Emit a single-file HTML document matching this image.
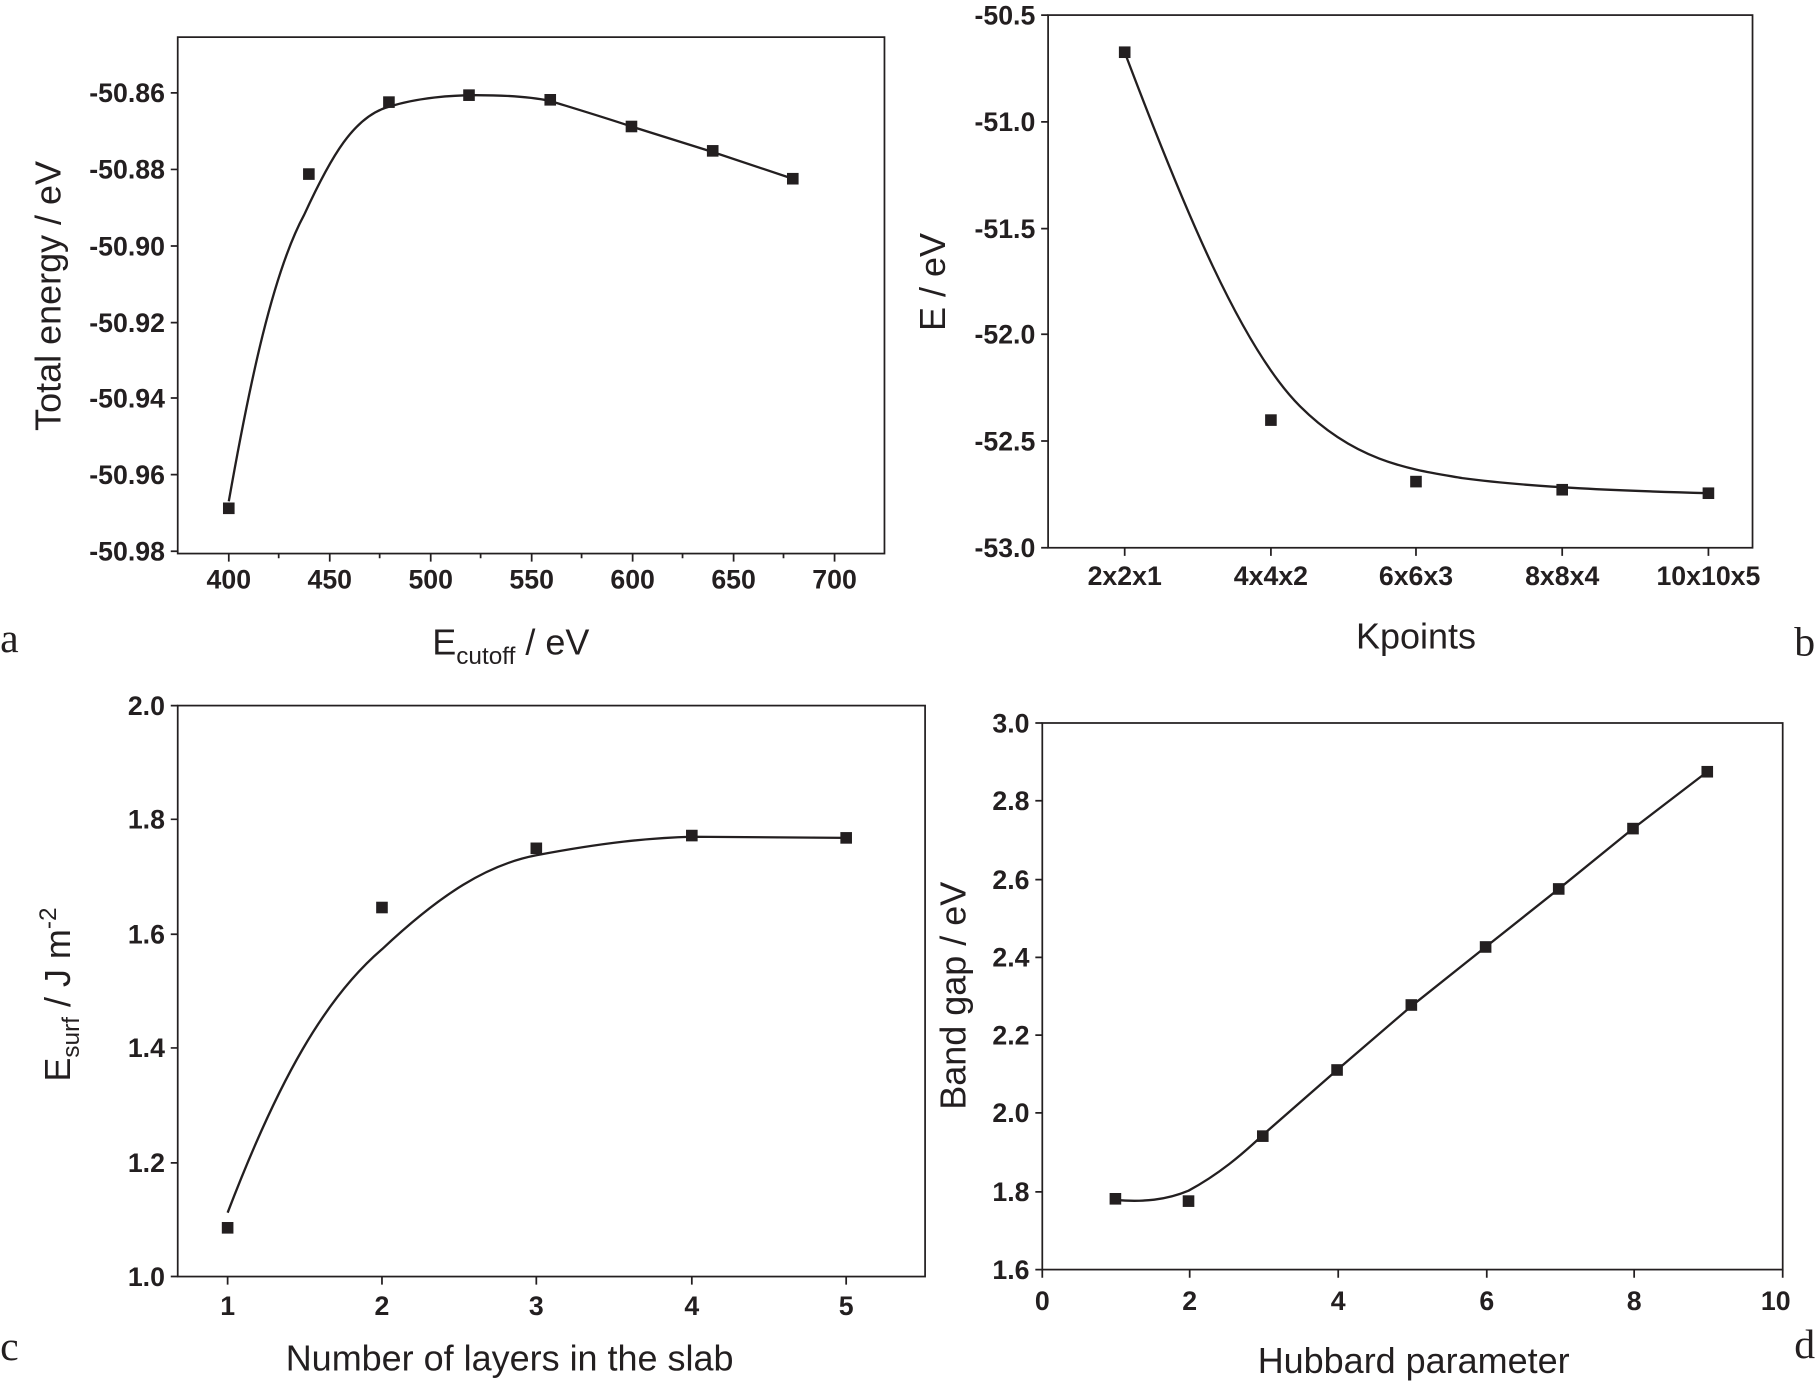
<!DOCTYPE html>
<html><head><style>html,body{margin:0;padding:0;background:#fff}svg{display:block}</style></head>
<body>
<svg width="1820" height="1381" viewBox="0 0 1568 1190" xmlns="http://www.w3.org/2000/svg" font-family="Liberation Sans, Arial, sans-serif" fill="#231f20">
<rect width="1568" height="1190" fill="#fff"/>
<g stroke="#231f20" fill="none" stroke-width="2">
<rect x="153" y="32" width="609" height="445" stroke-width="1.5"/>
<rect x="903" y="13" width="607" height="459" stroke-width="1.5"/>
<rect x="153" y="608" width="644" height="492" stroke-width="1.5"/>
<rect x="898" y="623" width="638" height="471" stroke-width="1.5"/>
<path d="M153,80h-6M153,146h-6M153,212h-6M153,278h-6M153,343h-6M153,409h-6M153,475h-6
M197,477v7M284,477v7M371,477v7M458,477v7M545,477v7M632,477v7M719,477v7
M240,477v4M327,477v4M414,477v4M501,477v4M588,477v4M675,477v4" stroke-width="1.5"/>
<path d="M903,13h-6M903,105h-6M903,197h-6M903,288h-6M903,380h-6M903,472h-6
M969,472v7M1095,472v7M1220,472v7M1346,472v7M1472,472v7" stroke-width="1.5"/>
<path d="M153,608h-6M153,706h-6M153,805h-6M153,903h-6M153,1002h-6M153,1100h-6
M196,1100v7M329,1100v7M462,1100v7M596,1100v7M729,1100v7" stroke-width="1.5"/>
<path d="M898,623h-6M898,690h-6M898,758h-6M898,825h-6M898,892h-6M898,959h-6M898,1027h-6M898,1094h-6
M898,1094v7M1025,1094v7M1153,1094v7M1281,1094v7M1408,1094v7M1536,1094v7" stroke-width="1.5"/>
<path d="M197,432 C215,330 235,235 262,185 C285,135 305,100 335,92 C360,84 390,82 410,82 C440,82 460,84 474,87 C500,95 520,101 544,109 L614,131 L683,154"/>
<path d="M969,45 C1020,180 1070,300 1120,350 C1170,400 1220,405 1260,412 C1320,420 1400,423 1472,425"/>
<path d="M196,1045 C240,930 280,860 329,818 C380,770 420,745 462,737 C520,726 560,722 596,721 L729,722"/>
<path d="M961,1034 C985,1036 1005,1034 1024,1026 C1050,1012 1070,995 1088,978 L1152,922 L1216,867 L1280,816 L1343,766 L1407,714 L1471,665"/>
</g>
<g>
<rect x="192" y="433" width="10" height="10"/><rect x="261" y="145" width="10" height="10"/><rect x="330" y="83" width="10" height="10"/><rect x="399" y="77" width="10" height="10"/><rect x="469" y="81" width="10" height="10"/><rect x="539" y="104" width="10" height="10"/><rect x="609" y="125" width="10" height="10"/><rect x="678" y="149" width="10" height="10"/>
<rect x="964" y="40" width="10" height="10"/><rect x="1090" y="357" width="10" height="10"/><rect x="1215" y="410" width="10" height="10"/><rect x="1341" y="417" width="10" height="10"/><rect x="1467" y="420" width="10" height="10"/>
<rect x="191" y="1053" width="10" height="10"/><rect x="324" y="777" width="10" height="10"/><rect x="457" y="726" width="10" height="10"/><rect x="591" y="715" width="10" height="10"/><rect x="724" y="717" width="10" height="10"/>
<rect x="956" y="1028" width="10" height="10"/><rect x="1019" y="1030" width="10" height="10"/><rect x="1083" y="974" width="10" height="10"/><rect x="1147" y="917" width="10" height="10"/><rect x="1211" y="861" width="10" height="10"/><rect x="1275" y="811" width="10" height="10"/><rect x="1338" y="761" width="10" height="10"/><rect x="1402" y="709" width="10" height="10"/><rect x="1466" y="660" width="10" height="10"/>
</g>
<g font-weight="bold" font-size="23">
<g text-anchor="end">
<text x="142" y="88">-50.86</text><text x="142" y="154">-50.88</text><text x="142" y="220">-50.90</text><text x="142" y="286">-50.92</text><text x="142" y="351">-50.94</text><text x="142" y="417">-50.96</text><text x="142" y="483">-50.98</text>
<text x="892" y="21">-50.5</text><text x="892" y="113">-51.0</text><text x="892" y="205">-51.5</text><text x="892" y="296">-52.0</text><text x="892" y="388">-52.5</text><text x="892" y="480">-53.0</text>
<text x="142" y="616">2.0</text><text x="142" y="714">1.8</text><text x="142" y="813">1.6</text><text x="142" y="911">1.4</text><text x="142" y="1010">1.2</text><text x="142" y="1108">1.0</text>
<text x="887" y="631">3.0</text><text x="887" y="698">2.8</text><text x="887" y="766">2.6</text><text x="887" y="833">2.4</text><text x="887" y="900">2.2</text><text x="887" y="967">2.0</text><text x="887" y="1035">1.8</text><text x="887" y="1102">1.6</text>
</g>
<g text-anchor="middle">
<text x="197" y="507">400</text><text x="284" y="507">450</text><text x="371" y="507">500</text><text x="458" y="507">550</text><text x="545" y="507">600</text><text x="632" y="507">650</text><text x="719" y="507">700</text>
<text x="969" y="504">2x2x1</text><text x="1095" y="504">4x4x2</text><text x="1220" y="504">6x6x3</text><text x="1346" y="504">8x8x4</text><text x="1472" y="504">10x10x5</text>
<text x="196" y="1133">1</text><text x="329" y="1133">2</text><text x="462" y="1133">3</text><text x="596" y="1133">4</text><text x="729" y="1133">5</text>
<text x="898" y="1129">0</text><text x="1025" y="1129">2</text><text x="1153" y="1129">4</text><text x="1281" y="1129">6</text><text x="1408" y="1129">8</text><text x="1530" y="1129">10</text>
</g>
</g>
<g font-size="31" text-anchor="middle">
<text x="440" y="564">E<tspan font-size="21" dy="8">cutoff</tspan><tspan dy="-8"> / eV</tspan></text>
<text x="1220" y="559">Kpoints</text>
<text x="439" y="1181">Number of layers in the slab</text>
<text x="1218" y="1183">Hubbard parameter</text>
<text transform="translate(52,255) rotate(-90)">Total energy / eV</text>
<text transform="translate(814,243) rotate(-90)">E / eV</text>
<text transform="translate(60,857) rotate(-90)">E<tspan font-size="21" dy="8">surf</tspan><tspan dy="-8"> / J m</tspan><tspan font-size="21" dy="-12">-2</tspan></text>
<text transform="translate(832,858) rotate(-90)">Band gap / eV</text>
</g>
<g font-family="Liberation Serif, serif" font-size="36">
<text x="0" y="562">a</text><text x="1546" y="565">b</text><text x="0" y="1172">c</text><text x="1546" y="1170">d</text>
</g>
</svg>
</body></html>
